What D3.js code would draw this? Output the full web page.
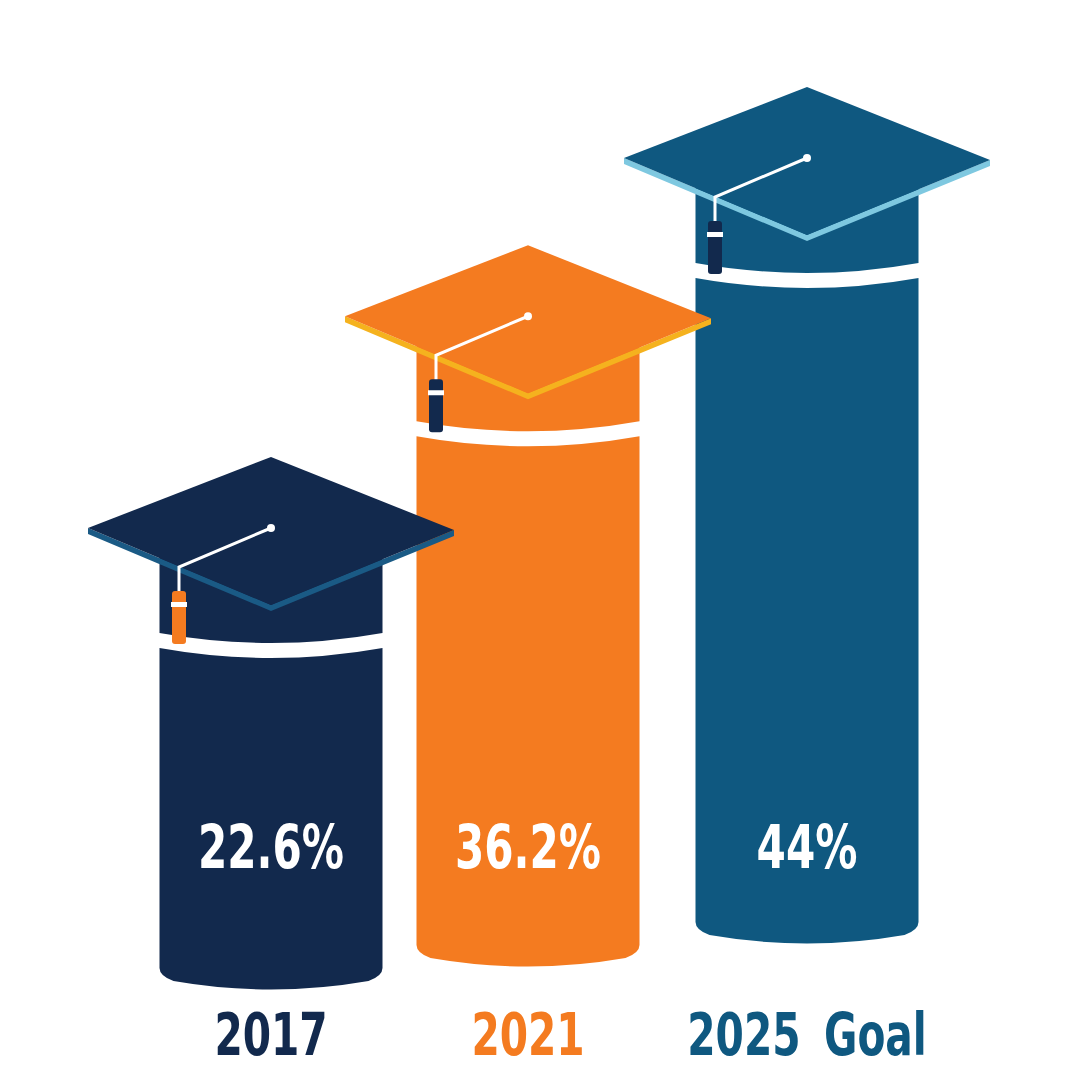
<!DOCTYPE html><html><head><meta charset="utf-8">
<script src="https://cdn.jsdelivr.net/npm/d3@7"></script>
<style>body{margin:0;background:#fff}</style></head><body>
<svg id="c" width="1080" height="1080"></svg>
<script>
const categories=["2017","2021","2025 Goal"];
const values=[22.6,36.2,44];
const labels=["22.6%","36.2%","44%"];
const colors=["#12294d","#f47b20","#0f5880"];
const edgeColors=["#1a5a85","#f5b21e","#7ec8e0"];
const tasselColors=["#f47b20","#12294d","#12294d"];

const svg=d3.select("#c");
const x=d3.scaleOrdinal().domain(categories).range([271,528,807]);
const w=223;
const y=d3.scalePow().exponent(1.85).domain([22.6,44]).range([457,87]);
const font="'DejaVu Sans'";
const gCols=svg.append("g"), gCaps=svg.append("g"), gText=svg.append("g");
categories.forEach((c,i)=>{
  const cx=x(c), x0=cx-w/2, ty=y(values[i]);
  const bot=976-23*i, col=colors[i];
  const bandTop=ty+176;
  gCols.append("path").attr("d",`M${x0},${ty+80}L${x0+w},${ty+80}L${x0+w},${bandTop}Q${cx},${bandTop+20} ${x0},${bandTop}Z`).attr("fill",col);
  const lt=bandTop+15;
  gCols.append("path").attr("d",`M${x0},${lt}Q${cx},${lt+20} ${x0+w},${lt}L${x0+w},${bot-8}Q${x0+w},${bot} ${x0+w-14},${bot+5}Q${cx},${bot+22} ${x0+14},${bot+5}Q${x0},${bot} ${x0},${bot-8}Z`).attr("fill",col);
  const g=gCaps.append("g");
  const L=[cx-183,ty+71],R=[cx+183,ty+73],T=[cx,ty],B=[cx,ty+148];
  g.append("path").attr("d",`M${L[0]},${L[1]}L${B[0]},${B[1]}L${R[0]},${R[1]}L${R[0]},${R[1]+6}L${B[0]},${B[1]+6}L${L[0]},${L[1]+6}Z`).attr("fill",edgeColors[i]);
  g.append("path").attr("d",`M${T[0]},${T[1]}L${R[0]},${R[1]}L${B[0]},${B[1]}L${L[0]},${L[1]}Z`).attr("fill",col);
  const tx=cx-92;
  g.append("path").attr("d",`M${cx},${ty+71}L${tx},${ty+110}L${tx},${ty+137}`).attr("stroke","#fff").attr("stroke-width",3).attr("fill","none");
  g.append("circle").attr("cx",cx).attr("cy",ty+71).attr("r",4).attr("fill","#fff");
  g.append("rect").attr("x",tx-7).attr("y",ty+134).attr("width",14).attr("height",53).attr("rx",3).attr("fill",tasselColors[i]);
  g.append("rect").attr("x",tx-8).attr("y",ty+145).attr("width",16).attr("height",5).attr("fill","#fff");
  gText.append("text").attr("transform",`translate(${cx},868) scale(0.78,1)`).attr("text-anchor","middle").attr("fill","#fff")
    .attr("font-family",font).attr("font-stretch","condensed").attr("font-weight","bold").attr("font-size",60).text(labels[i]);
  gText.append("text").attr("transform",`translate(${cx},1055) scale(0.78,1)`).attr("text-anchor","middle").attr("fill",col)
    .attr("font-family",font).attr("font-stretch","condensed").attr("font-weight","bold").attr("font-size",58).attr("word-spacing",12).text(c);
});
</script></body></html>
